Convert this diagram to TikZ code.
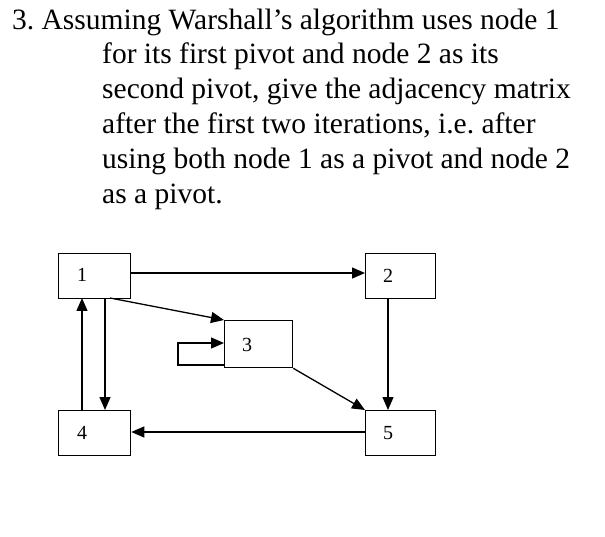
\documentclass[tikz,border=0pt]{standalone}
\usepackage{fontspec}
\setmainfont{Liberation Serif}
\usetikzlibrary{arrows.meta}
\frenchspacing
\begin{document}
\begin{tikzpicture}[x=1pt,y=-1pt,
 box/.style={draw,line width=1.3pt,minimum width=72pt,minimum height=45pt,anchor=north west,inner sep=0},
 lab/.style={font=\fontsize{20}{22}\selectfont},
 ar/.style={line width=1.3pt,-{Triangle[length=13pt,width=11pt]}},
 txt/.style={font=\fontsize{29.5}{35}\selectfont,anchor=north west,inner sep=0,align=left}]
\useasboundingbox (0,0) rectangle (605,537);
\node[txt] (t1) at (12,9) {3. Assuming Warshall’s algorithm uses node 1};
\node[txt] (t2) at (102,43) {for its first pivot and node 2 as its\\second pivot, give the adjacency matrix\\after the first two iterations, i.e. after\\using both node 1 as a pivot and node 2\\as a pivot.};
\node[box] (n1) at (58,253) {};
\node[box,minimum width=70pt] (n2) at (365,253) {};
\node[box,minimum width=68pt,minimum height=47pt] (n3) at (224,320) {};
\node[box] (n4) at (58,410) {};
\node[box,minimum width=70pt] (n5) at (365,410) {};
\node[lab] (l1) at (82,275) {1};
\node[lab] (l2) at (388,276) {2};
\node[lab] (l3) at (247,345) {3};
\node[lab] (l4) at (82,433) {4};
\node[lab] (l5) at (388,433) {5};
\draw[ar] (n1.east |- 0,273) -- (n2.west |- 0,273);
\draw[ar] (110,298) -- (n3.north west);
\coordinate (c1) at (178,365);
\coordinate (c2) at (178,343);
\draw[ar] (n3.west |- c1) -- (c1) -- (c2) -- (n3.west |- c2);
\draw[ar] (n3.south east) -- (n5.north west);
\draw[ar] (n2.south -| 388,0) -- (n5.north -| 388,0);
\draw[ar] (n5.west |- 0,432) -- (n4.east |- 0,432);
\draw[ar] (n4.north west) ++(24,0) -- (82,298);
\draw[ar] (105,298) -- (105,410);
\end{tikzpicture}
\end{document}
